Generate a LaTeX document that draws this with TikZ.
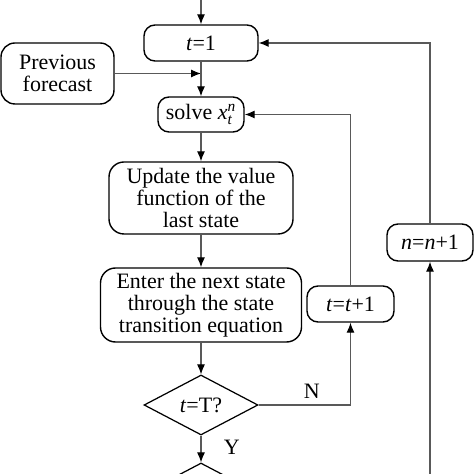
\documentclass[tikz,border=0pt]{standalone}
\usepackage{amsmath}
\usepackage{fontspec}
\setmainfont{Liberation Serif}
\usetikzlibrary{shapes.geometric,arrows.meta}

\begin{document}
\begin{tikzpicture}[font=\fontsize{12.5}{12.5}\selectfont,
		box/.style={shape=rectangle, draw, line width=0.8pt, rounded corners=0.22cm, align=center, inner sep=0pt},
		decision/.style={shape=diamond, draw, line width=0.7pt, aspect=1.9, inner sep=0pt, minimum width=2.28cm, minimum height=1.2cm},
		wire/.style={draw=black!65, line width=0.6pt},
		arr/.style={wire, -{Latex[length=2mm,width=1.6mm,color=black]}}]	% Paths, nodes and wires:
			\useasboundingbox (0,0) rectangle (9.48,9.48);
			\clip (0,0) rectangle (9.48,9.48);
			\node[box, minimum width=2.28cm, minimum height=0.72cm] (t1) at (4.02, 8.62) {\textit{t}=1};
			\node[box, rounded corners=0.28cm, minimum width=2.26cm, minimum height=1.22cm] (prev) at (1.15, 8.01) {Previous\\forecast};
			\node[box, minimum width=1.72cm, minimum height=0.70cm] (solve) at (4.02, 7.19) {solve \textit{x}$^{\textit{n}}_{\textit{t}}$};
			\node[box, rounded corners=0.3cm, minimum width=3.68cm, minimum height=1.44cm] (update) at (4.02, 5.52) {Update the value\\function of the\\last state};
			\node[box, rounded corners=0.3cm, minimum width=4.02cm, minimum height=1.48cm] (enter) at (4.02, 3.38) {Enter the next state\\through the state\\transition equation};
			\node[decision] (check) at (4.02, 1.38) {\textit{t}=T?};
			\node[decision] (next) at (4.02, -0.38) {};
			\node[box, minimum width=1.74cm, minimum height=0.72cm] (tnext) at (7.01, 3.40) {\textit{t}=\textit{t}+1};
			\node[box, minimum width=1.72cm, minimum height=0.74cm] (nnext) at (8.60, 4.63) {\textit{n}=\textit{n}+1};
			\coordinate (in) at (4.02, 9.48);
			\coordinate (loop) at (8.60, 0);
			\draw[arr] (in) -- (t1);
			\draw[arr] (prev) -- (prev -| t1);
			\draw[arr] (t1) -- (solve);
			\draw[arr] (solve) -- (update);
			\draw[arr] (update) -- (enter);
			\draw[arr] (enter) -- (check);
			\draw[arr] (check) -- node[right=0.33cm, pos=0.43]{Y} (next);
			\draw[arr] (check.east) -| node[above, pos=0.29]{N} (tnext);
			\draw[arr] (tnext) |- (solve);
			\draw[arr] (loop) -- (nnext);
			\draw[arr] (nnext) |- (t1);
		\end{tikzpicture}
\end{document}
